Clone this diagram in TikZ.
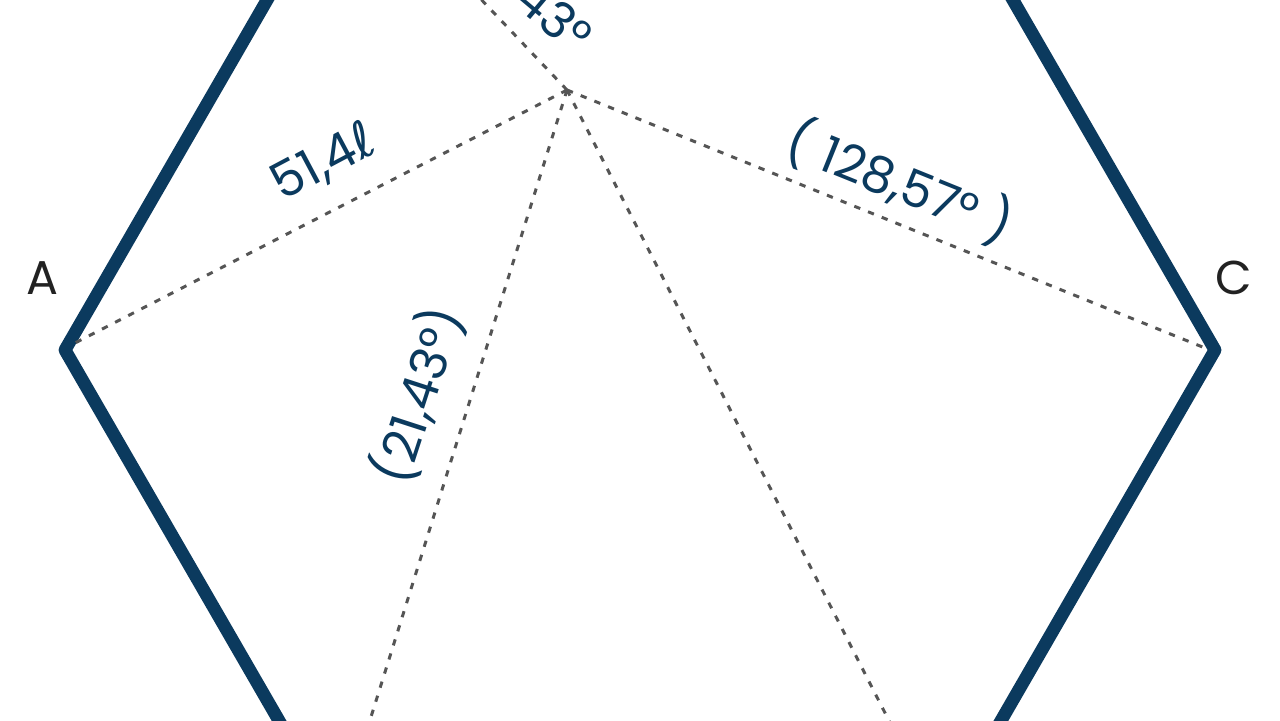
\documentclass[tikz,border=0pt]{standalone}
\usepackage{fontspec}
\setmainfont{Poppins}
\newfontfamily\dejavu{DejaVu Sans}
\usetikzlibrary{positioning}
\definecolor{hexnavy}{HTML}{0B3A5E}
\definecolor{dotgray}{HTML}{555555}
\definecolor{vertexgray}{HTML}{222222}

\begin{document}
\begin{tikzpicture}[x=0.02cm, y=-0.02cm,
    side/.style={hexnavy, line width=7.3pt, line join=round},
    ray/.style={dotgray, line width=1.7pt, dash pattern=on 3.6pt off 4.8pt},
    angle/.style={text=hexnavy, font=\fontsize{28.5}{32}\selectfont, inner sep=0pt},
    vertex/.style={text=vertexgray, font=\fontsize{27}{30}\selectfont, inner sep=0pt}]
    \useasboundingbox (0,0) rectangle (1280,720);
    \fill[white] (0,0) rectangle (1280,720);
    \clip (0,0) rectangle (1280,720);

    % hexagon
    \coordinate (A) at (65,350);
    \coordinate (B) at (352.5,-148);
    \coordinate (B2) at (927.5,-148);
    \coordinate (C) at (1215,350);
    \coordinate (D2) at (927.5,848);
    \coordinate (D) at (352.5,848);
    \draw [side] (A) -- (B) -- (B2) -- (C) -- (D2) -- (D) -- cycle;

    % rays from the inner point
    \coordinate (P) at (567,90);
    \coordinate (endA) at (75,343);
    \coordinate (endC) at (1205,348);
    \coordinate (endUp) at (330,-160);
    \coordinate (endL) at (330,848);
    \coordinate (endR) at (954,848);
    \draw [ray] (P) -- (endA);
    \draw [ray] (P) -- (endC);
    \draw [ray] (P) -- (endUp);
    \draw [ray] (P) -- (endL);
    \draw [ray] (P) -- (endR);

    % labels
    \node (labA) [vertex] at (42,278) {A};
    \node (labC) [vertex] at (1234,278) {C};
    \node (ang1) [angle, rotate=28] at (324,163) {51,4{\dejavu ℓ}};
    \node (ang2) [angle, rotate=-22] at (900,182) {( 128,57° )};
    \node (ang3) [angle, rotate=72] at (418,395) {(21,43°)};
    \node (ang4) [angle, rotate=-40] at (554,16) {43°};
\end{tikzpicture}
\end{document}
